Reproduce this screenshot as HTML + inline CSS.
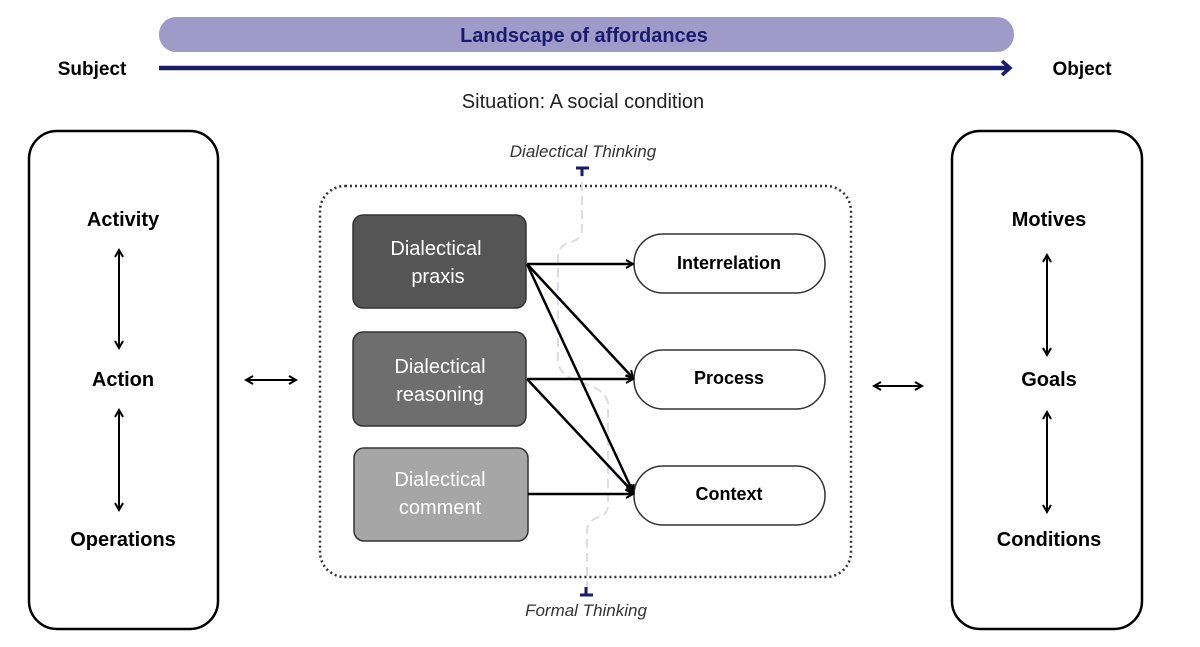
<!DOCTYPE html>
<html><head><meta charset="utf-8"><style>body{margin:0;background:#fff}svg{display:block}</style></head><body>
<svg width="1200" height="647" viewBox="0 0 1200 647" xmlns="http://www.w3.org/2000/svg" font-family="Liberation Sans, sans-serif">
<defs>
<marker id="a" markerWidth="10" markerHeight="10" refX="8" refY="5" orient="auto-start-reverse" markerUnits="userSpaceOnUse"><path d="M1,1 L8,5 L1,9" fill="none" stroke="#000" stroke-width="2"/></marker>
<marker id="n" markerWidth="14" markerHeight="18" refX="10" refY="9" orient="auto" markerUnits="userSpaceOnUse"><path d="M2,2 L10,9 L2,16" fill="none" stroke="#1a1a6e" stroke-width="3.5"/></marker>
</defs>
<rect x="159" y="17" width="855" height="35" rx="17" fill="#9e9bc8"/>
<text x="584" y="42" text-anchor="middle" font-size="20" font-weight="bold" fill="#1a1a6e">Landscape of affordances</text>
<line x1="159" y1="68" x2="1010" y2="68" stroke="#1a1a6e" stroke-width="4.5" marker-end="url(#n)"/>
<text x="92" y="75" text-anchor="middle" font-size="19" font-weight="bold">Subject</text>
<text x="1082" y="75" text-anchor="middle" font-size="19" font-weight="bold">Object</text>
<text x="583" y="108" text-anchor="middle" font-size="20" fill="#222">Situation: A social condition</text>

<rect x="29" y="131" width="189" height="498" rx="28" fill="#fff" stroke="#000" stroke-width="2.5"/>
<text x="123" y="226" text-anchor="middle" font-size="20" font-weight="bold">Activity</text>
<text x="123" y="386" text-anchor="middle" font-size="20" font-weight="bold">Action</text>
<text x="123" y="546" text-anchor="middle" font-size="20" font-weight="bold">Operations</text>
<line x1="119" y1="250" x2="119" y2="348" stroke="#000" stroke-width="2" marker-start="url(#a)" marker-end="url(#a)"/>
<line x1="119" y1="410" x2="119" y2="510" stroke="#000" stroke-width="2" marker-start="url(#a)" marker-end="url(#a)"/>

<rect x="952" y="131" width="190" height="498" rx="28" fill="#fff" stroke="#000" stroke-width="2.5"/>
<text x="1049" y="226" text-anchor="middle" font-size="20" font-weight="bold">Motives</text>
<text x="1049" y="386" text-anchor="middle" font-size="20" font-weight="bold">Goals</text>
<text x="1049" y="546" text-anchor="middle" font-size="20" font-weight="bold">Conditions</text>
<line x1="1047" y1="255" x2="1047" y2="355" stroke="#000" stroke-width="2" marker-start="url(#a)" marker-end="url(#a)"/>
<line x1="1047" y1="412" x2="1047" y2="512" stroke="#000" stroke-width="2" marker-start="url(#a)" marker-end="url(#a)"/>

<line x1="246" y1="380" x2="296" y2="380" stroke="#000" stroke-width="2" marker-start="url(#a)" marker-end="url(#a)"/>
<line x1="874" y1="386" x2="922" y2="386" stroke="#000" stroke-width="2" marker-start="url(#a)" marker-end="url(#a)"/>

<rect x="320" y="186" width="531" height="391" rx="25" fill="none" stroke="#333" stroke-width="2.5" stroke-dasharray="2 3"/>

<path d="M582,168 V228 Q582,240 570,242 Q558,246 558,258 V360 Q558,375 580,382 Q608,390 608,405 V505 Q608,515 596,518 Q587,522 587,532 V594" fill="none" stroke="#dcdcec" stroke-width="2" stroke-dasharray="9 5"/>
<path d="M576,168 H589 M582,168 V176" stroke="#1a1a6e" stroke-width="3"/>
<path d="M580,595 H593 M586,595 V587" stroke="#1a1a6e" stroke-width="3"/>
<text x="583" y="157" text-anchor="middle" font-size="17" font-style="italic" fill="#333">Dialectical Thinking</text>
<text x="586" y="616" text-anchor="middle" font-size="17" font-style="italic" fill="#333">Formal Thinking</text>

<rect x="353" y="215" width="173" height="93" rx="10" fill="#555" stroke="#333" stroke-width="1.5"/>
<text x="436" y="255" text-anchor="middle" font-size="20" fill="#fff">Dialectical</text>
<text x="438" y="283" text-anchor="middle" font-size="20" fill="#fff">praxis</text>
<rect x="353" y="332" width="173" height="94" rx="10" fill="#6e6e6e" stroke="#333" stroke-width="1.5"/>
<text x="440" y="373" text-anchor="middle" font-size="20" fill="#fff">Dialectical</text>
<text x="440" y="401" text-anchor="middle" font-size="20" fill="#fff">reasoning</text>
<rect x="354" y="448" width="174" height="93" rx="10" fill="#a6a6a6" stroke="#333" stroke-width="1.5"/>
<text x="440" y="486" text-anchor="middle" font-size="20" fill="#fff">Dialectical</text>
<text x="440" y="514" text-anchor="middle" font-size="20" fill="#fff">comment</text>

<rect x="634" y="234" width="191" height="59" rx="29" fill="#fff" stroke="#333" stroke-width="1.5"/>
<text x="729" y="269" text-anchor="middle" font-size="18" font-weight="bold">Interrelation</text>
<rect x="634" y="350" width="191" height="59" rx="29" fill="#fff" stroke="#333" stroke-width="1.5"/>
<text x="729" y="384" text-anchor="middle" font-size="18" font-weight="bold">Process</text>
<rect x="634" y="466" width="191" height="59" rx="29" fill="#fff" stroke="#333" stroke-width="1.5"/>
<text x="729" y="500" text-anchor="middle" font-size="18" font-weight="bold">Context</text>

<g stroke="#000" stroke-width="2.5" fill="none">
<line x1="527" y1="264" x2="633" y2="264" marker-end="url(#a)"/>
<line x1="527" y1="264" x2="633" y2="378" marker-end="url(#a)"/>
<line x1="527" y1="264" x2="633" y2="492" marker-end="url(#a)"/>
<line x1="527" y1="379" x2="633" y2="379" marker-end="url(#a)"/>
<line x1="527" y1="379" x2="633" y2="492" marker-end="url(#a)"/>
<line x1="528" y1="494" x2="633" y2="494" marker-end="url(#a)"/>
</g>
</svg>
</body></html>
